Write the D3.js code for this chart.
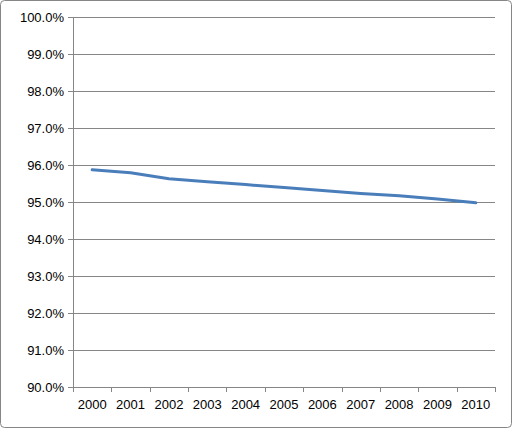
<!DOCTYPE html>
<html><head><meta charset="utf-8">
<script src="https://cdn.jsdelivr.net/npm/d3@7"></script>
<style>body{margin:0;background:#fff}svg{display:block}</style>
</head><body><svg id="c" width="512" height="428"></svg>
<script>
const years = ["2000","2001","2002","2003","2004","2005","2006","2007","2008","2009","2010"];
const values = [95.87,95.79,95.63,95.55,95.47,95.39,95.31,95.23,95.17,95.08,94.98];
const yTicks = [90,91,92,93,94,95,96,97,98,99,100];

const svg = d3.select("#c");
svg.append("rect").attr("x",0.5).attr("y",0.5).attr("width",511).attr("height",427)
  .attr("rx",4).attr("fill","#fff").attr("stroke","#868686");
const L=73,R=495,T=17,B=387;
const x = d3.scaleBand().domain(years).range([L,R]);
const y = d3.scaleLinear().domain([90,100]).range([B,T]);
const g = svg.append("g");
g.selectAll("line.grid").data(yTicks).join("line")
  .attr("x1",L-5).attr("x2",R).attr("y1",d=>Math.round(y(d))+0.5).attr("y2",d=>Math.round(y(d))+0.5)
  .attr("stroke",d=>d===90?"#868686":"#868686").attr("stroke-width",1);
g.append("line").attr("x1",L+0.5).attr("x2",L+0.5).attr("y1",T).attr("y2",B).attr("stroke","#868686");
const edges = years.map(d=>x(d)).concat([R]);
g.selectAll("line.xt").data(edges).join("line")
  .attr("x1",d=>Math.round(d)+0.5).attr("x2",d=>Math.round(d)+0.5).attr("y1",B).attr("y2",B+5).attr("stroke","#868686");
g.selectAll("text.yl").data(yTicks).join("text")
  .attr("x",L-9).attr("y",d=>y(d)).attr("dy","0.35em").attr("text-anchor","end")
  .attr("font-family","Liberation Sans, Arial, sans-serif").attr("font-size",13).attr("fill","#000")
  .text(d=>d.toFixed(1)+"%");
g.selectAll("text.xl").data(years).join("text")
  .attr("x",d=>x(d)+x.bandwidth()/2).attr("y",B+22).attr("text-anchor","middle")
  .attr("font-family","Liberation Sans, Arial, sans-serif").attr("font-size",13).attr("fill","#000")
  .text(d=>d);
const line = d3.line().x((d,i)=>x(years[i])+x.bandwidth()/2).y(d=>y(d));
g.append("path").datum(values).attr("d",line).attr("fill","none")
  .attr("stroke","#4a7ebb").attr("stroke-width",3).attr("stroke-linejoin","round").attr("stroke-linecap","round");
</script></body></html>
